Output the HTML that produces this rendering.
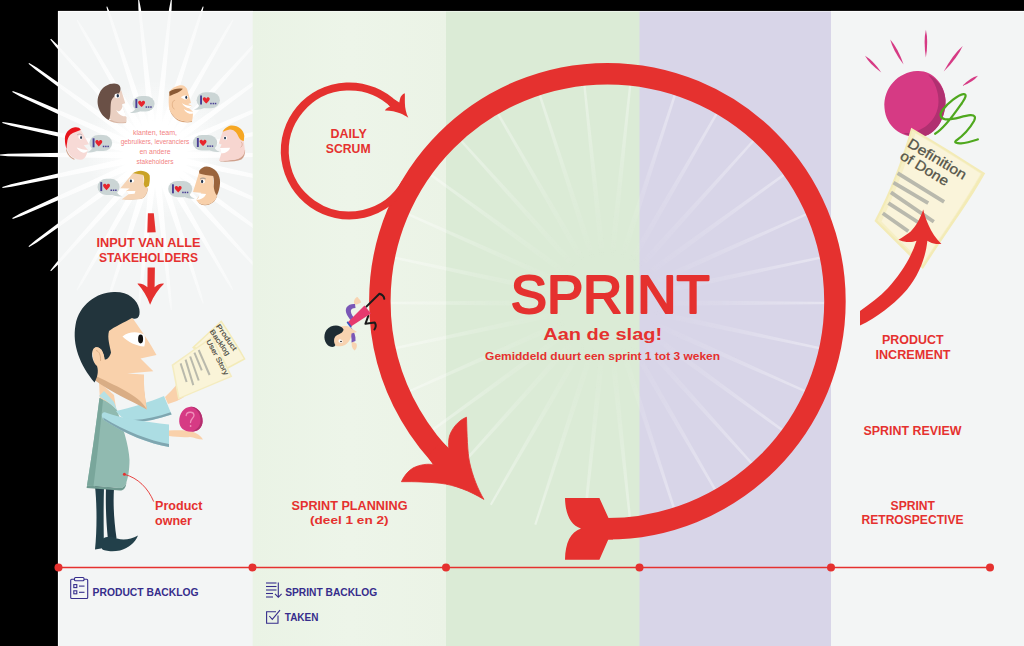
<!DOCTYPE html>
<html><head><meta charset="utf-8"><title>Scrum</title>
<style>html,body{margin:0;padding:0;background:#000;width:1024px;height:646px;overflow:hidden}svg{display:block}</style>
</head><body>
<svg width="1024" height="646" viewBox="0 0 1024 646">
<!-- s_bg -->
<rect x="0" y="0" width="1024" height="646" fill="#000"/>
<rect x="58" y="11" width="966" height="635" fill="#f3f5f5"/>
<radialGradient id="glow" cx="155" cy="150" r="70" gradientUnits="userSpaceOnUse"><stop offset="0" stop-color="#fff" stop-opacity="1"/><stop offset="0.45" stop-color="#fff" stop-opacity="0.85"/><stop offset="1" stop-color="#fff" stop-opacity="0"/></radialGradient>
<circle cx="155" cy="150" r="70" fill="url(#glow)"/>
<path fill="#fff" d="M173.0,158.4 L302.0,156.2 L311.0,155.4 L311.0,154.6 L302.0,153.8 L173.0,151.6Z M171.9,162.1 L298.5,186.8 L307.5,187.9 L307.7,187.0 L299.0,184.3 L173.3,155.4Z M170.1,165.4 L288.8,215.9 L297.3,218.9 L297.7,218.0 L289.8,213.6 L172.8,159.2Z M167.6,168.3 L273.2,242.4 L280.9,247.1 L281.5,246.3 L274.7,240.4 L171.6,162.8Z M164.5,170.7 L252.4,265.1 L259.0,271.2 L259.7,270.6 L254.3,263.4 L169.6,166.1Z M161.1,172.3 L227.4,282.9 L232.6,290.3 L233.4,289.9 L229.6,281.7 L166.9,168.9Z M157.3,173.2 L199.2,295.2 L202.8,303.5 L203.6,303.2 L201.6,294.4 L163.8,171.1Z M153.5,173.3 L169.1,301.3 L170.9,310.2 L171.8,310.1 L171.6,301.1 L160.3,172.5Z M149.7,172.5 L138.4,301.1 L138.2,310.1 L139.1,310.2 L140.9,301.3 L156.5,173.3Z M146.2,171.1 L108.4,294.4 L106.4,303.2 L107.2,303.5 L110.8,295.2 L152.7,173.2Z M143.1,168.9 L80.4,281.7 L76.6,289.9 L77.4,290.3 L82.6,282.9 L148.9,172.3Z M140.4,166.1 L55.7,263.4 L50.3,270.6 L51.0,271.2 L57.6,265.1 L145.5,170.7Z M138.4,162.8 L35.3,240.4 L28.5,246.3 L29.1,247.1 L36.8,242.4 L142.4,168.3Z M137.2,159.2 L20.2,213.6 L12.3,218.0 L12.7,218.9 L21.2,215.9 L139.9,165.4Z M136.7,155.4 L11.0,184.3 L2.3,187.0 L2.5,187.9 L11.5,186.8 L138.1,162.1Z M137.0,151.6 L8.0,153.8 L-1.0,154.6 L-1.0,155.5 L8.0,156.3 L137.0,158.4Z M138.1,147.9 L11.5,123.2 L2.5,122.1 L2.3,123.0 L11.0,125.7 L136.7,154.6Z M139.9,144.6 L21.2,94.1 L12.7,91.1 L12.3,92.0 L20.2,96.4 L137.2,150.8Z M142.4,141.7 L36.8,67.6 L29.1,62.9 L28.5,63.7 L35.3,69.6 L138.4,147.2Z M145.5,139.3 L57.6,44.9 L51.0,38.8 L50.3,39.4 L55.7,46.6 L140.4,143.9Z M148.9,137.7 L82.6,27.1 L77.4,19.7 L76.6,20.1 L80.4,28.3 L143.1,141.1Z M152.7,136.8 L110.8,14.8 L107.2,6.5 L106.4,6.8 L108.4,15.6 L146.2,138.9Z M156.5,136.7 L140.9,8.7 L139.1,-0.2 L138.2,-0.1 L138.4,8.9 L149.7,137.5Z M160.3,137.5 L171.6,8.9 L171.8,-0.1 L170.9,-0.2 L169.1,8.7 L153.5,136.7Z M163.8,138.9 L201.6,15.6 L203.6,6.8 L202.8,6.5 L199.2,14.8 L157.3,136.8Z M166.9,141.1 L229.6,28.3 L233.4,20.1 L232.6,19.7 L227.4,27.1 L161.1,137.7Z M169.6,143.9 L254.3,46.6 L259.7,39.4 L259.0,38.8 L252.4,44.9 L164.5,139.3Z M171.6,147.2 L274.7,69.6 L281.5,63.7 L280.9,62.9 L273.2,67.6 L167.6,141.7Z M172.8,150.8 L289.8,96.4 L297.7,92.0 L297.3,91.1 L288.8,94.1 L170.1,144.6Z M173.3,154.6 L299.0,125.7 L307.7,123.0 L307.5,122.1 L298.5,123.2 L171.9,147.9Z"/>
<circle cx="155" cy="155" r="26" fill="#fff"/>
<radialGradient id="dim" cx="155" cy="155" r="170" gradientUnits="userSpaceOnUse"><stop offset="0.2" stop-color="#f3f5f5" stop-opacity="0"/><stop offset="0.6" stop-color="#f3f5f5" stop-opacity="0.3"/><stop offset="1" stop-color="#f3f5f5" stop-opacity="0.7"/></radialGradient>
<rect x="58" y="11" width="196" height="400" fill="url(#dim)"/>
<linearGradient id="g1" x1="0" x2="1" y1="0" y2="0"><stop offset="0" stop-color="#eaf3e5"/><stop offset="0.5" stop-color="#edf5e9"/><stop offset="1" stop-color="#ebf3e6"/></linearGradient>
<rect x="252.7" y="11" width="194.3" height="635" fill="url(#g1)"/>
<rect x="446" y="11" width="194" height="635" fill="#dbebd6"/>
<rect x="639.5" y="11" width="192" height="635" fill="#d8d5e8"/>
<rect x="831" y="11" width="193" height="635" fill="#f3f5f5"/>
<rect x="58" y="10.9" width="195" height="1.1" fill="#fff" fill-opacity="0.9"/><rect x="253" y="10.9" width="578" height="1.1" fill="#fff" fill-opacity="0.45"/><rect x="831" y="10.9" width="193" height="1.1" fill="#fff" fill-opacity="0.9"/>
<rect x="57.9" y="11" width="1.1" height="635" fill="#fff" fill-opacity="0.9"/>
<radialGradient id="rayfade" cx="607.3" cy="303" r="233" gradientUnits="userSpaceOnUse"><stop offset="0.2" stop-color="#fff" stop-opacity="0"/><stop offset="0.5" stop-color="#fff" stop-opacity="0.11"/><stop offset="1" stop-color="#fff" stop-opacity="0.4"/></radialGradient>
<filter id="soft" x="-5%" y="-5%" width="110%" height="110%"><feGaussianBlur stdDeviation="0.6"/></filter>
<path d="M637.3,306.1 L840.3,304.0 L840.3,302.0 L637.3,299.9Z M636.0,312.3 L835.0,352.4 L835.4,350.5 L637.3,306.2Z M633.4,318.0 L819.7,398.7 L820.6,396.9 L636.0,312.4Z M629.7,323.1 L795.2,440.8 L796.4,439.1 L633.4,318.1Z M625.1,327.4 L762.5,476.8 L764.0,475.5 L629.7,323.2Z M619.6,330.5 L722.9,505.3 L724.7,504.3 L625.0,327.4Z M613.6,332.5 L678.3,524.9 L680.3,524.3 L619.5,330.6Z M607.4,333.2 L630.7,534.8 L632.6,534.6 L613.5,332.5Z M601.1,332.5 L582.0,534.6 L583.9,534.8 L607.2,333.2Z M595.1,330.6 L534.3,524.3 L536.3,524.9 L601.0,332.5Z M589.6,327.4 L489.9,504.3 L491.7,505.3 L595.0,330.5Z M584.9,323.2 L450.6,475.5 L452.1,476.8 L589.5,327.4Z M581.2,318.1 L418.2,439.1 L419.4,440.8 L584.9,323.1Z M578.6,312.4 L394.0,396.9 L394.9,398.7 L581.2,318.0Z M577.3,306.2 L379.2,350.5 L379.6,352.4 L578.6,312.3Z M577.3,299.9 L374.3,302.0 L374.3,304.0 L577.3,306.1Z M578.6,293.7 L379.6,253.6 L379.2,255.5 L577.3,299.8Z M581.2,288.0 L394.9,207.3 L394.0,209.1 L578.6,293.6Z M584.9,282.9 L419.4,165.2 L418.2,166.9 L581.2,287.9Z M589.5,278.6 L452.1,129.2 L450.6,130.5 L584.9,282.8Z M595.0,275.5 L491.7,100.7 L489.9,101.7 L589.6,278.6Z M601.0,273.5 L536.3,81.1 L534.3,81.7 L595.1,275.4Z M607.2,272.8 L583.9,71.2 L582.0,71.4 L601.1,273.5Z M613.5,273.5 L632.6,71.4 L630.7,71.2 L607.4,272.8Z M619.5,275.4 L680.3,81.7 L678.3,81.1 L613.6,273.5Z M625.0,278.6 L724.7,101.7 L722.9,100.7 L619.6,275.5Z M629.7,282.8 L764.0,130.5 L762.5,129.2 L625.1,278.6Z M633.4,287.9 L796.4,166.9 L795.2,165.2 L629.7,282.9Z M636.0,293.6 L820.6,209.1 L819.7,207.3 L633.4,288.0Z M637.3,299.8 L835.4,255.5 L835.0,253.6 L636.0,293.7Z" fill="url(#rayfade)" filter="url(#soft)"/>
<line x1="58" y1="567.5" x2="990" y2="567.5" stroke="#e5312f" stroke-width="1.6"/>
<circle cx="58.5" cy="567.5" r="4" fill="#e5312f"/>
<circle cx="252.5" cy="567.5" r="4" fill="#e5312f"/>
<circle cx="446" cy="567.5" r="4" fill="#e5312f"/>
<circle cx="639.5" cy="567.5" r="4" fill="#e5312f"/>
<circle cx="831" cy="567.5" r="4" fill="#e5312f"/>
<circle cx="990" cy="567.5" r="4" fill="#e5312f"/>
<!-- s_right -->
<path d="M865.0,55.7 Q869.7,64.2 881.3,72.4 Q873.4,60.6 865.0,55.7 Z" fill="#d63a84"/>
<path d="M890.2,39.5 Q893.1,50.9 903.6,64.6 Q898.0,48.2 890.2,39.5 Z" fill="#d63a84"/>
<path d="M925.9,29.8 Q923.3,40.9 925.9,57.6 Q928.5,40.9 925.9,29.8 Z" fill="#d63a84"/>
<path d="M962.7,45.9 Q952.8,54.5 943.7,71.6 Q957.4,57.8 962.7,45.9 Z" fill="#d63a84"/>
<path d="M978.0,75.8 Q970.2,77.7 962.1,86.1 Q973.1,82.1 978.0,75.8 Z" fill="#d63a84"/>
<path d="M917,71 C932,70 945,84 945.5,100 C946,118 936,136 920,137 C903,138 886,128 884.5,108 C883,88 898,72 917,71Z" fill="#d63a84"/>
<path d="M928,74.5 C938,79 945,89 945.5,100 C946,118 936,136 920,137 C914,137 908,135.5 903,133 C920,134 938,122 938.5,102 C938.8,92 935,82 928,74.5Z" fill="#b03070"/>
<path d="M911.2,127.8 C936,142 961,158 985.2,173.3 C968,204 944,236 922.9,269 L874.5,221 C890,192 902,160 911.2,127.8Z" fill="#f3ebb6"/>
<path d="M912.3,130.8 C936,144.3 959,158.8 981.8,173.4 C964,205 942,235 922.6,265.4 L877.3,220.6 C892,192 904,161 912.3,130.8Z" fill="#f6efc6"/><path d="M915.5,133.5 C937,146 959,159.6 980.6,173.8 C963,205 942,234 922.8,263.5 L881.5,221.5 C895,193 907,162 915.5,133.5Z" fill="#faf4da"/>
<line x1="897.6" y1="173.2" x2="944.1" y2="201.8" stroke="#b9b9ad" stroke-width="3.8"/>
<line x1="893.5" y1="182.7" x2="928.2" y2="203.1" stroke="#b9b9ad" stroke-width="3.8"/>
<line x1="890.9" y1="192.4" x2="933.8" y2="221.8" stroke="#b9b9ad" stroke-width="3.8"/>
<line x1="888.4" y1="203.1" x2="920" y2="223.5" stroke="#b9b9ad" stroke-width="3.8"/>
<line x1="882.8" y1="213.3" x2="908.3" y2="231.2" stroke="#b9b9ad" stroke-width="3.8"/>
<text transform="translate(906.5,146) rotate(31)" font-size="14" fill="#55554a" font-family="Liberation Sans, sans-serif" textLength="66" lengthAdjust="spacingAndGlyphs" stroke="#55554a" stroke-width="0.3">Definition</text>
<text transform="translate(899,158.5) rotate(31)" font-size="14" fill="#55554a" font-family="Liberation Sans, sans-serif" textLength="54" lengthAdjust="spacingAndGlyphs" stroke="#55554a" stroke-width="0.3">of Done</text>
<path d="M935.1,133.8 C945,128 955,113 962,103 C966,97 967,94 963.5,94.2 C958,95 948,103 943,109.5 C939,114.5 940,118 945,119.3 C952,120.5 962,116 970.3,115.2 C975,115 976,117 974,121 C970,128 962,136.5 955.7,141 C954,142.5 957,143.5 961,143.3 C967,143 973,141 977.9,139.4" fill="none" stroke="#4fa81e" stroke-width="2.2" stroke-linecap="round" stroke-linejoin="round"/>
<!-- s_ring -->
<path d="M603.24,539.46 A238.3,238.3 0 0 0 775.90,469.70 A238.3,238.3 0 0 0 845.70,301.20 A238.3,238.3 0 0 0 775.90,132.70 A238.3,238.3 0 0 0 607.40,62.90 A238.3,238.3 0 0 0 438.90,132.70 A238.3,238.3 0 0 0 369.10,301.20 A238.3,238.3 0 0 0 401.03,420.35 A238.3,238.3 0 0 0 441.86,472.62 L456.80,457.15 A216.8,216.8 0 0 1 419.65,409.60 A216.8,216.8 0 0 1 390.60,301.20 A216.8,216.8 0 0 1 454.10,147.90 A216.8,216.8 0 0 1 607.40,84.40 A216.8,216.8 0 0 1 760.70,147.90 A216.8,216.8 0 0 1 824.20,301.20 A216.8,216.8 0 0 1 760.70,454.50 A216.8,216.8 0 0 1 603.62,517.97 Z" fill="#e5312f"/>
<path d="M483.9,499.4 C478,489.5 472.5,476 469.5,462 C467.5,452 467,435 466.5,417.2 C459,420 452,428 449.5,436 C448.3,440.5 448.5,445 448.8,448.5 L441.5,441.5 L427.6,455.8 L433.5,464.8 C428,463.5 420,464.5 413,468 C408,471 404,476 401.4,481.7 C415,481.5 428,482 440,483.2 C455,485 470,491 483.9,499.4Z" fill="#e5312f" stroke="#e5312f" stroke-width="0.8" stroke-linejoin="round"/>
<path d="M565,498 L599.4,498 L608.5,518 L613,518 L613,539.5 L608.3,539.5 L599.4,559.7 L565,559.7 C565.3,543 570.5,532 581,528.6 C570.5,525 565.3,514 565,498 Z" fill="#e5312f"/>
<path d="M405.4,182.7 A64.5,64.5 0 1 1 394.9,105.3" fill="none" stroke="#e5312f" stroke-width="8"/>
<path d="M408.3,117.8 C406,113 405,108 404.9,103.2 C404.8,99.5 405,96 404.8,93.3 C402.5,94 400.5,96.5 400,99 C399.6,100.5 399.4,101.5 399.3,102.4 L394.6,99.5 L388,104.5 L390.3,106.3 C388.5,107 386,108.5 384.9,110.6 C390,110.5 396,111.8 400,113.3 C403.5,114.7 406,116.2 408.3,117.8Z" fill="#e5312f"/>
<path d="M860,310.9 C870,304 880,296.5 888,288 C900,275 911,258 916.5,240.8 C913,242.3 908,242.5 904,241.5 C902,241 900,240.5 898.5,239.7 C903,237 907.5,234 910.7,231.4 C916,226 920.5,218 923.2,209.4 C924.5,215 926.5,220.5 928.5,225.1 C931.5,232 936,239 941.4,243.9 C938.5,244.3 936,244 933.7,243.5 C931,242.8 929,242 927.4,240.8 C926.8,246 925.8,251.5 924.3,256.5 C921,268 914,283 903,294 C893,304.5 878,317 860,325.5 Z" fill="#e5312f"/>
<path d="M147.9,213.3 L153.8,213.3 L155.7,232.3 L147.3,232.6 Z" fill="#e5312f"/>
<path d="M147.6,267.5 L154.9,267.5 L154.6,287.2 C157,285 160.5,283.2 164,283.7 C158.5,289 153.5,296 150.1,304.8 C147,296 142.5,289 137.4,283.7 C141.2,283.2 144.5,285 147.4,287.2 Z" fill="#e5312f"/>
<!-- s_people -->
<g transform="translate(97.00,83.40) scale(0.2970,0.3990)">
<path d="M38,92 C55,102 80,100 98,99 L99,84 C60,95 50,90 38,92Z" fill="#d9b8a6"/>
<path d="M45,25 L82,18 L95,50 L84,52 L86,60 C92,70 98,80 99,97 C80,99 55,98 40,88 Z" fill="#ead0c2"/>
<path d="M86,58 C90,68 96,76 98,82 C85,84 72,78 64,66 C72,72 80,72 86,58Z" fill="#fff"/>
<path d="M40,92 C10,80 -8,50 8,25 C20,5 50,-3 70,2 C82,6 82,20 72,26 C60,32 50,36 47,48 C44,62 48,80 40,92Z" fill="#6a5046"/>
<ellipse cx="68" cy="31" rx="9" ry="6" fill="#fff"/><ellipse cx="70" cy="31" rx="4" ry="4.5" fill="#22344c"/>
</g>
<rect x="132.6" y="96.0" width="22.0" height="15.5" rx="9.0" ry="7.8" fill="#cbd5d5"/>
<path d="M135.6,108.0 C134.6,111.0 131.4,112.5 129.9,112.7 C134.4,113.6 138.6,112.0 141.6,110.5 Z" fill="#cbd5d5"/>
<rect x="135.4" y="99.0" width="1.9" height="9" fill="#4a3f94"/>
<path d="M141.60,102.15 c-1.2,-2.6 -4.2,-1.4 -3.3,1.0 c0.6,1.6 2.2,2.6 3.3,3.9 c1.1,-1.3 2.7,-2.3 3.3,-3.9 c0.9,-2.4 -2.1,-3.6 -3.3,-1.0z" fill="#e8252d"/>
<rect x="145.6" y="106.3" width="1.5" height="1.5" fill="#4a3f94"/>
<rect x="147.9" y="106.3" width="1.5" height="1.5" fill="#4a3f94"/>
<rect x="150.2" y="106.3" width="1.5" height="1.5" fill="#4a3f94"/>
<g transform="translate(168.80,85.20) scale(0.2420,0.3620)">
<path d="M40.5,95 C55,100 75,101 96,99 L96,102 C75,104 52,103 36,97 C18,88 2,74 0,56 C4,72 22,88 40.5,95Z" fill="#dba77c"/>
<path d="M2,18 C15,6 35,0 52,0 C62,0 70,4 75,10 L92,49 L80,52 L97,58 L84,64 L100,73 C100,82 99,92 96,99 C75,101 55,100 40.5,95 C20,86 2,72 0,56 C-1,40 0,28 2,18Z" fill="#f9d0aa"/>
<path d="M54,49 C62,54 80,57 97,58 L84,64 C72,62 60,57 54,49Z" fill="#fff"/>
<path d="M61.5,65.5 C70,70 85,73 100,73 L99,79 C85,80 70,76 61.5,65.5Z" fill="#fff"/>
<path d="M2,18 C20,10 40,8 58,10 C50,18 25,24 3,30Z" fill="#8a5a34"/>
<path d="M26,42 C12,40 10,64 24,66" fill="none" stroke="#dba77c" stroke-width="2.2"/>
<path d="M50,33 C60,27 72,27 80,31 C78,40 70,43 50,33Z" fill="#fff"/><ellipse cx="72" cy="33.5" rx="3.8" ry="4.6" fill="#22344c"/>
</g>
<rect x="196.6" y="92.2" width="23.3" height="16.1" rx="9.0" ry="8.0" fill="#cbd5d5"/>
<path d="M199.6,104.8 C198.6,107.8 195.4,109.3 193.9,109.5 C198.4,110.4 202.6,108.8 205.6,107.3 Z" fill="#cbd5d5"/>
<rect x="200.1" y="95.5" width="1.9" height="9" fill="#4a3f94"/>
<path d="M206.25,98.65 c-1.2,-2.6 -4.2,-1.4 -3.3,1.0 c0.6,1.6 2.2,2.6 3.3,3.9 c1.1,-1.3 2.7,-2.3 3.3,-3.9 c0.9,-2.4 -2.1,-3.6 -3.3,-1.0z" fill="#e8252d"/>
<rect x="210.2" y="102.8" width="1.5" height="1.5" fill="#4a3f94"/>
<rect x="212.6" y="102.8" width="1.5" height="1.5" fill="#4a3f94"/>
<rect x="214.8" y="102.8" width="1.5" height="1.5" fill="#4a3f94"/>
<g transform="translate(64.90,127.00) scale(0.2450,0.3270)">
<path d="M7,68 C12,80 22,92 40,98 L38,100 C20,95 7,82 4,68Z" fill="#d2a58f"/>
<path d="M64,8 L98,53 L77,56 L94,70 L88,85 C82,96 72,101 62,100 C45,99 28,92 20,84 C8,70 2,52 4,40 C8,24 30,10 64,8Z" fill="#f7dad6"/>
<path d="M48,62.5 C60,66 80,70 94,70.5 C88,78 80,80 72,78 C62,75 54,70 48,62.5Z" fill="#fff"/>
<path d="M64,8 C60,2 50,0 37,1.7 C15,5 0,20 0,36 C0,50 3,60 7,68 C7,58 8,52 9,48 C10,38 15,28 23,23 C35,17 50,14 64,9.5Z" fill="#e8141c"/>
<ellipse cx="63" cy="31.5" rx="8.5" ry="6" transform="rotate(20 63 31.5)" fill="#fff"/><ellipse cx="66" cy="32" rx="3.8" ry="4.6" fill="#22344c"/>
<path d="M50,24 C56,21 64,21 70,24" fill="none" stroke="#8a8f9a" stroke-width="1.8"/>
</g>
<rect x="89.4" y="135.1" width="22.8" height="16.0" rx="9.0" ry="8.0" fill="#cbd5d5"/>
<path d="M92.4,147.6 C91.4,150.6 88.2,152.1 86.7,152.3 C91.2,153.2 95.4,151.6 98.4,150.1 Z" fill="#cbd5d5"/>
<rect x="92.6" y="138.3" width="1.9" height="9" fill="#4a3f94"/>
<path d="M98.80,141.50 c-1.2,-2.6 -4.2,-1.4 -3.3,1.0 c0.6,1.6 2.2,2.6 3.3,3.9 c1.1,-1.3 2.7,-2.3 3.3,-3.9 c0.9,-2.4 -2.1,-3.6 -3.3,-1.0z" fill="#e8252d"/>
<rect x="102.8" y="145.7" width="1.5" height="1.5" fill="#4a3f94"/>
<rect x="105.1" y="145.7" width="1.5" height="1.5" fill="#4a3f94"/>
<rect x="107.4" y="145.7" width="1.5" height="1.5" fill="#4a3f94"/>
<g transform="translate(218.70,125.60) scale(0.2640,0.3560)">
<path d="M8,101 C40,102 70,100 86,95 C96,90 101,80 100,68 L96,70 C94,84 80,92 60,95 C40,97 20,98 2,99Z" fill="#cfa08c"/>
<path d="M15,17 L0,50 L11,53 L5,63 L10,78 L1,99.5 C30,99 60,97 76,93 C90,89 99,80 99,68 L95,43 C90,20 70,5 50,3 C35,3 22,10 15,17 Z" fill="#f7d6d0"/>
<path d="M5,63 L43,62.5 C40,72 25,78 10,78 Z" fill="#fff"/>
<path d="M15,17 C25,5 40,0 50,0 C75,0 95,12 97,29 L95,43 C85,42 78,38 74,30 C68,18 55,10 42,11 C32,12 22,16 15,17Z" fill="#f6a723"/>
<ellipse cx="25" cy="35" rx="7" ry="6" fill="#fff"/><ellipse cx="24" cy="35" rx="3.6" ry="4" fill="#22344c"/>
<path d="M84,46 C91,48 91,58 83,61" fill="none" stroke="#cfa08c" stroke-width="2"/>
</g>
<rect x="192.9" y="135.1" width="24.3" height="15.4" rx="9.0" ry="7.7" fill="#cbd5d5"/>
<path d="M214.2,147.0 C215.2,150.0 218.4,151.5 219.9,151.7 C215.4,152.6 211.2,151.0 208.2,149.5 Z" fill="#cbd5d5"/>
<rect x="196.9" y="138.0" width="1.9" height="9" fill="#4a3f94"/>
<path d="M203.05,141.20 c-1.2,-2.6 -4.2,-1.4 -3.3,1.0 c0.6,1.6 2.2,2.6 3.3,3.9 c1.1,-1.3 2.7,-2.3 3.3,-3.9 c0.9,-2.4 -2.1,-3.6 -3.3,-1.0z" fill="#e8252d"/>
<rect x="207.1" y="145.4" width="1.5" height="1.5" fill="#4a3f94"/>
<rect x="209.4" y="145.4" width="1.5" height="1.5" fill="#4a3f94"/>
<rect x="211.7" y="145.4" width="1.5" height="1.5" fill="#4a3f94"/>
<g transform="translate(120.30,170.70) scale(0.2940,0.2930)">
<path d="M4.4,99.5 C30,100 55,99 70,97 C84,93 94,76 94,58.7 L92,58 C90,74 82,90 70,94Z" fill="#e0b894"/>
<path d="M42.5,9 L0,60 L32,61 L19.5,69 L28,80 L4.4,98 C30,98 55,97 70,95 C82,91 92,75 93,58.7 L80,44 L78,14 Z" fill="#f5d4b6"/>
<path d="M19.5,69 L51.5,69 L48.5,79 L28,80 Z" fill="#fff"/>
<path d="M42.5,9 C50,3 60,0 70,0 C85,1 97,8 100,16.5 C101,30 100,42 97,52 L87,57.7 C82,54 80,50 80,44 C82,34 82,22 78,14.5 C66,12 54,10 42.5,9Z" fill="#caa226"/>
<ellipse cx="38" cy="34.5" rx="9" ry="7" fill="#fff"/><ellipse cx="36" cy="35" rx="3.8" ry="5" fill="#22344c"/>
</g>
<rect x="97.5" y="178.8" width="22.1" height="16.2" rx="9.0" ry="8.1" fill="#cbd5d5"/>
<path d="M116.6,191.5 C117.6,194.5 120.8,196.0 122.3,196.2 C117.8,197.1 113.6,195.5 110.6,194.0 Z" fill="#cbd5d5"/>
<rect x="100.3" y="182.1" width="1.9" height="9" fill="#4a3f94"/>
<path d="M106.55,185.30 c-1.2,-2.6 -4.2,-1.4 -3.3,1.0 c0.6,1.6 2.2,2.6 3.3,3.9 c1.1,-1.3 2.7,-2.3 3.3,-3.9 c0.9,-2.4 -2.1,-3.6 -3.3,-1.0z" fill="#e8252d"/>
<rect x="110.5" y="189.5" width="1.5" height="1.5" fill="#4a3f94"/>
<rect x="112.8" y="189.5" width="1.5" height="1.5" fill="#4a3f94"/>
<rect x="115.1" y="189.5" width="1.5" height="1.5" fill="#4a3f94"/>
<g transform="translate(193.00,166.30) scale(0.2760,0.3830)">
<path d="M12,88 C20,98 32,102 45,101.5 C65,101 82,92 88,77 L86.6,76 C80,90 65,99 45,99.7 C32,100 20,96 12,88Z" fill="#c98f60"/>
<path d="M22,16 L0,67 L30,69 L12,88 C20,96 32,100 45,99.7 C65,99 80,90 86.6,76 L75,52 L73,25 L24,14 Z" fill="#f8d0aa"/>
<path d="M7,70 L47.5,72.5 C42,82 28,88 12,88 C20,84 24,78 22,74 Z" fill="#fff"/>
<path d="M22,12.5 C30,4 40,0 50,0.5 C80,2 100,22 98,43 C97,56 93,68 86.6,76 C80,70 76,62 75,52.5 C76,42 76,32 73,25 C55,24 35,22 23,19 Z" fill="#9a643c"/>
<ellipse cx="35" cy="39.5" rx="8.5" ry="5.5" fill="#fff"/><ellipse cx="33" cy="39.5" rx="4" ry="4.6" fill="#22344c"/>
<path d="M26,33 C32,30 40,30 46,33" fill="none" stroke="#6b7a8a" stroke-width="2"/>
</g>
<rect x="168.2" y="181.0" width="24.0" height="16.2" rx="9.0" ry="8.1" fill="#cbd5d5"/>
<path d="M189.2,193.7 C190.2,196.7 193.4,198.2 194.9,198.4 C190.4,199.3 186.2,197.7 183.2,196.2 Z" fill="#cbd5d5"/>
<rect x="172.0" y="184.3" width="1.9" height="9" fill="#4a3f94"/>
<path d="M178.20,187.50 c-1.2,-2.6 -4.2,-1.4 -3.3,1.0 c0.6,1.6 2.2,2.6 3.3,3.9 c1.1,-1.3 2.7,-2.3 3.3,-3.9 c0.9,-2.4 -2.1,-3.6 -3.3,-1.0z" fill="#e8252d"/>
<rect x="182.2" y="191.7" width="1.5" height="1.5" fill="#4a3f94"/>
<rect x="184.5" y="191.7" width="1.5" height="1.5" fill="#4a3f94"/>
<rect x="186.8" y="191.7" width="1.5" height="1.5" fill="#4a3f94"/>
<path d="M95,486 L104,487 C103.5,505 103.5,525 104,548 L95,549.5 C97,530 97,505 95,486Z" fill="#22404a"/>
<path d="M106,487 L114,488 C113,505 114,520 116.5,538 L108,540 C106,520 105.5,505 106,487Z" fill="#1f3944"/>
<path d="M102,540 C104,536 112,536 117,538.5 C124,541 131,539 138,535.5 C135,543 128,548 120,550.5 C112,552 104,551 102,549Z" fill="#22404a"/>
<path d="M99,382 L114,395 L116,408 L100,402Z" fill="#f9d1ab"/>
<path d="M99.5,398 C104,400 112,404 117,410 C122,425 129,445 129.5,460 C129.5,470 128,478 126.5,482 C125.5,486 123,488 120,488 L87,485.5 C92,455 96,425 99.5,398Z" fill="#90bab0"/>
<path d="M99.5,398 L103,400 C100,430 97,460 93.5,486 L87,485.5 C92,455 96,425 99.5,398Z" fill="#79a69b"/>
<path d="M87,485.5 L120,488 C123,488 125.5,486 126.5,482 L126,485 C125,489 123,490.5 120,490.5 L86.6,488Z" fill="#6f9a90"/>
<path d="M99,396 L104,391 L114,402 L117,410 C111,404 105,400 99,396Z" fill="#b6e0e4"/>
<path d="M116,411 C130,408 150,402 164,396 L171.6,414.6 C158,419 146,422 133.5,422.5 C127,421 120,417 116,411Z" fill="#acdde3"/>
<path d="M133.5,422.5 C146,422 158,419 171.6,414.6 L170.6,412.2 C158,416.5 146,419.5 133,420Z" fill="#7fa6b0"/>
<path d="M165,397 C170,392 174,388 177,384 L184,397 C180,400 174,402 168,404Z" fill="#f9d1ab"/>
<path d="M102,414 C103,412 105,412 107,413 C120,418 145,422 169,424.5 L169,447 C150,444 125,434 104,420 C102,418 101.5,416 102,414Z" fill="#acdde3"/>
<path d="M104,420 C125,434 150,444 169,447 L169,444 C150,441 125,431 103,417.5Z" fill="#7fa6b0"/>
<path d="M169,430.5 C178,430 186,430 192,431.5 C197,433 201,436 203,439.5 C198,439.5 194,437.5 190,437 C184,437.5 176,437 169,436Z" fill="#f9d1ab"/>
<path d="M190.5,406.8 C198,406.5 203,414 202.6,421.5 C202.3,428 198,431.8 191,431.8 C184,431.8 179.5,427.5 179.2,421.5 C179,414 184,407 190.5,406.8Z" fill="#d63a84"/>
<path d="M190.5,406.8 C198,406.5 203,414 202.6,421.5 C202.3,428 198,431.8 191,431.8 C197,430 200.5,426 200.5,420 C200.5,414 197,408.5 190.5,406.8Z" fill="#b22f6e"/>
<path d="M186.2,415.5 C186.5,411.5 193.5,411 194,415 C194.3,418 190.5,418.5 190.5,422.5" fill="none" stroke="#f08fba" stroke-width="1.3" stroke-linecap="round"/><circle cx="190.6" cy="426" r="0.9" fill="#f08fba"/>
<path d="M94.5,380 C110,392 130,400 146.8,409.5 C145,398 143.5,388 142.5,377 C125,378 108,375 94.5,372Z" fill="#d9ad85"/>
<path d="M108,326 L132.5,318 C141,330 150,343 156.5,355 L140.5,358.5 L153.3,371.3 L127.2,373.6 L144,374.5 C143.5,386 145,398 146.8,409.5 C140,396 120,388 96,376 L92,350Z" fill="#f9d1ab"/>
<path d="M122.5,336.5 C129,331 139,331.5 144.6,335 C145.5,340 145,344 144.3,346.6 C136,346 128,342 122.5,336.5Z" fill="#fff"/>
<ellipse cx="140.6" cy="339" rx="2.5" ry="4.4" fill="#111"/>
<path d="M94.5,382.5 C80,365 72,345 75.5,325 C79,305 96,292.5 114,292 C128,291.5 137,299 139.3,309 C140,313 139.5,316.5 137.5,318 C135,319.5 133,318.5 132,318 C125,322 114,327 109,331 C107,338 110,346 111,352.5 C110,357 107,360 104.5,359.5 C104,352 100,346 95,347.5 C90,350 92,362 97,366 C99,372 97,378 94.5,382.5Z" fill="#22343c"/>
<path d="M104.5,359.5 C104,352 100,346 95.5,347.5 C91,350 92.5,361 97,365.5 C100,367 103,364 104.5,359.5Z" fill="#f9d1ab"/>
<path d="M96,350.5 C99,351 101,355 100.5,361" fill="none" stroke="#d9ad85" stroke-width="0.9"/>
<path d="M192,347.5 L221.4,320.3 C230,333 238,346 245.6,359.3 L222,372Z" fill="#f3ebb8"/>
<path d="M195,346.8 L221,322.3 C229,334 236.5,346.5 243.6,358.6 L224,369Z" fill="#faf4da"/>
<path d="M171.6,364.8 C184,356 199,345.5 212.3,336.2 C219,349.5 225.5,363 232.3,376.7 C215,384 196,392 178.1,399.4 C176,388 174,376 171.6,364.8Z" fill="#f4ecc0"/>
<path d="M173.4,365.6 C185,357 199,347.5 211.6,338.6 C218,351 224,363.5 230.3,376 C214,383 196,390.5 179.4,397.4 C177.5,387 175.5,376 173.4,365.6Z" fill="#faf4d8"/>
<line x1="180.6" y1="363.4" x2="186.6" y2="382" stroke="#b9b9ac" stroke-width="2"/>
<line x1="185.6" y1="359.6" x2="193.3" y2="385.1" stroke="#b9b9ac" stroke-width="2"/>
<line x1="190.2" y1="356.5" x2="198.7" y2="380.5" stroke="#b9b9ac" stroke-width="2"/>
<line x1="194.4" y1="352.6" x2="201.8" y2="370.4" stroke="#b9b9ac" stroke-width="2"/>
<line x1="198.7" y1="350" x2="209.6" y2="375" stroke="#b9b9ac" stroke-width="2"/>
<text transform="translate(215.8,326.2) rotate(55)" font-size="7" fill="#4a4a40" font-family="Liberation Sans, sans-serif" stroke="#4a4a40" stroke-width="0.15" textLength="30.5" lengthAdjust="spacingAndGlyphs">Product</text>
<text transform="translate(209.4,331.6) rotate(55)" font-size="7" fill="#4a4a40" font-family="Liberation Sans, sans-serif" stroke="#4a4a40" stroke-width="0.15" textLength="30" lengthAdjust="spacingAndGlyphs">Backlog</text>
<text transform="translate(206,341) rotate(61.5)" font-size="7" fill="#4a4a40" font-family="Liberation Sans, sans-serif" stroke="#4a4a40" stroke-width="0.15" textLength="39.5" lengthAdjust="spacingAndGlyphs">User Story</text>
<circle cx="124.4" cy="474.3" r="1.5" fill="#e5312f"/>
<path d="M124.4,474.3 C138,478 148,488 153.7,501.6" fill="none" stroke="#e5312f" stroke-width="0.9"/>
<path d="M366.4,306.6 L379.4,293.8 C382,294.5 384,296.5 384.3,298.8" fill="none" stroke="#1b1b1b" stroke-width="2" stroke-linecap="round" stroke-linejoin="round"/>
<path d="M368.3,315.9 L365.4,323.8 L374.8,322.6 C376,324.5 375.8,327.5 374.4,329.5" fill="none" stroke="#1b1b1b" stroke-width="2" stroke-linecap="round" stroke-linejoin="round"/>
<path d="M354.5,304.5 C353,301 355,297.5 357.5,297 C359,299 361,300.5 361,302.5 C359,303.5 357,305 354.5,304.5Z" fill="#f8d3b0"/>
<path d="M352,341.5 C351,345 352,348.5 354.5,350.5 C356.5,349 357.5,346.5 356.5,343.5Z" fill="#f8d3b0"/>
<path d="M351.5,321 C347,316 344.5,311 346.5,307.5 C348.5,304.5 352,303.5 355,304 L355.5,308 C352.5,308 351,309 350.8,311 C351,314 353,316.5 355,318.5Z" fill="#7a57b6"/>
<path d="M351,327 C354,331 356,336 355.5,341 L351.5,342.5 C352,338 351,334 348.5,330Z" fill="#7a57b6"/>
<path d="M347.8,322.3 L364.5,305.4 L370.9,313.6 L350.9,326.6Z" fill="#e63a6e"/>
<path d="M346.6,322.6 L347.8,321.3 L351.8,326.4 L350.3,327.5Z" fill="#3a55c0"/>
<path d="M333.5,331 C338,327 344,325 348.5,326.5 L357,332 L351.5,333.5 C351.5,338 349,342.5 345,345 C341,347 336,346.5 334,345Z" fill="#f8d3b0"/>
<path d="M343.5,329.2 C340,324 331,324.5 326.5,330 C322.5,336 324.5,344 330,346.6 C333,347.5 335,346.5 335.3,345 C333.5,342 333.5,337.5 336.5,335.5 C340,333.5 343.5,332.5 343.5,329.2Z" fill="#1e2c33"/>
<ellipse cx="340.6" cy="341.2" rx="2.2" ry="1.7" transform="rotate(25 340.6 341.2)" fill="#fff"/><circle cx="341" cy="341.5" r="0.8" fill="#111"/>
<!-- s_icons -->
<rect x="70.7" y="579.2" width="17" height="19.3" rx="1" fill="none" stroke="#362d8c" stroke-width="1.1"/>
<rect x="74.5" y="577.5" width="9.5" height="3.2" rx="1" fill="#f3f5f5" stroke="#362d8c" stroke-width="1.1"/>
<rect x="73.8" y="584.6" width="3" height="3" fill="none" stroke="#362d8c" stroke-width="1.1"/>
<rect x="73.8" y="590.8" width="3" height="3" fill="none" stroke="#362d8c" stroke-width="1.1"/>
<line x1="79" y1="586.1" x2="84.5" y2="586.1" fill="none" stroke="#362d8c" stroke-width="1.1"/>
<line x1="79" y1="592.3" x2="84.5" y2="592.3" fill="none" stroke="#362d8c" stroke-width="1.1"/>
<line x1="266" y1="583" x2="276.5" y2="583" fill="none" stroke="#362d8c" stroke-width="1.1"/>
<line x1="266" y1="586.5" x2="276.5" y2="586.5" fill="none" stroke="#362d8c" stroke-width="1.1"/>
<line x1="266" y1="590" x2="276.5" y2="590" fill="none" stroke="#362d8c" stroke-width="1.1"/>
<line x1="266" y1="593.5" x2="273" y2="593.5" fill="none" stroke="#362d8c" stroke-width="1.1"/>
<line x1="266" y1="597" x2="273" y2="597" fill="none" stroke="#362d8c" stroke-width="1.1"/>
<path d="M278.3,582.5 L278.3,597 M275,593.8 L278.3,597.3 L281.6,593.8" fill="none" stroke="#362d8c" stroke-width="1.1"/>
<path d="M278,615.5 L278,623.2 L266.6,623.2 L266.6,611.8 L276,611.8" fill="none" stroke="#362d8c" stroke-width="1.1"/>
<path d="M269.3,616 L272.3,619.3 L280,610.2" fill="none" stroke="#362d8c" stroke-width="1.1"/>
<!-- s_text -->
<text x="610.2" y="313.1" font-size="54.5" font-weight="normal" fill="#e5312f" text-anchor="middle" font-family="Liberation Sans, sans-serif" textLength="199" lengthAdjust="spacingAndGlyphs" stroke="#e5312f" stroke-width="2.2" stroke-linejoin="round">SPRINT</text>
<text x="602.7" y="340.4" font-size="17.4" font-weight="bold" fill="#e5312f" text-anchor="middle" font-family="Liberation Sans, sans-serif" textLength="119" lengthAdjust="spacingAndGlyphs" >Aan de slag!</text>
<text x="602.6" y="359.8" font-size="11" font-weight="bold" fill="#e5312f" text-anchor="middle" font-family="Liberation Sans, sans-serif" textLength="235" lengthAdjust="spacingAndGlyphs" >Gemiddeld duurt een sprint 1 tot 3 weken</text>
<text x="348.6" y="138.4" font-size="12.3" font-weight="bold" fill="#e5312f" text-anchor="middle" font-family="Liberation Sans, sans-serif" textLength="36.3" lengthAdjust="spacingAndGlyphs" >DAILY</text>
<text x="348.2" y="153.4" font-size="12.3" font-weight="bold" fill="#e5312f" text-anchor="middle" font-family="Liberation Sans, sans-serif" textLength="44.7" lengthAdjust="spacingAndGlyphs" >SCRUM</text>
<text x="148.5" y="247.2" font-size="12.8" font-weight="bold" fill="#e5312f" text-anchor="middle" font-family="Liberation Sans, sans-serif" textLength="104" lengthAdjust="spacingAndGlyphs" >INPUT VAN ALLE</text>
<text x="148.5" y="262.2" font-size="12.8" font-weight="bold" fill="#e5312f" text-anchor="middle" font-family="Liberation Sans, sans-serif" textLength="99" lengthAdjust="spacingAndGlyphs" >STAKEHOLDERS</text>
<text x="155" y="510.2" font-size="12.8" font-weight="bold" fill="#e5312f" text-anchor="start" font-family="Liberation Sans, sans-serif" textLength="47.5" lengthAdjust="spacingAndGlyphs" >Product</text>
<text x="155" y="524.6" font-size="12.8" font-weight="bold" fill="#e5312f" text-anchor="start" font-family="Liberation Sans, sans-serif" textLength="37" lengthAdjust="spacingAndGlyphs" >owner</text>
<text x="349.5" y="509.9" font-size="12.1" font-weight="bold" fill="#e5312f" text-anchor="middle" font-family="Liberation Sans, sans-serif" textLength="116" lengthAdjust="spacingAndGlyphs" >SPRINT PLANNING</text>
<text x="349.3" y="523.9" font-size="11.6" font-weight="bold" fill="#e5312f" text-anchor="middle" font-family="Liberation Sans, sans-serif" textLength="78.5" lengthAdjust="spacingAndGlyphs" >(deel 1 en 2)</text>
<text x="912.8" y="343.6" font-size="12.1" font-weight="bold" fill="#e5312f" text-anchor="middle" font-family="Liberation Sans, sans-serif" textLength="61.5" lengthAdjust="spacingAndGlyphs" >PRODUCT</text>
<text x="913" y="358.6" font-size="12.1" font-weight="bold" fill="#e5312f" text-anchor="middle" font-family="Liberation Sans, sans-serif" textLength="75" lengthAdjust="spacingAndGlyphs" >INCREMENT</text>
<text x="912.5" y="435.4" font-size="12.1" font-weight="bold" fill="#e5312f" text-anchor="middle" font-family="Liberation Sans, sans-serif" textLength="98" lengthAdjust="spacingAndGlyphs" >SPRINT REVIEW</text>
<text x="912.8" y="509.9" font-size="12.1" font-weight="bold" fill="#e5312f" text-anchor="middle" font-family="Liberation Sans, sans-serif" textLength="44.5" lengthAdjust="spacingAndGlyphs" >SPRINT</text>
<text x="912.5" y="524.4" font-size="12.1" font-weight="bold" fill="#e5312f" text-anchor="middle" font-family="Liberation Sans, sans-serif" textLength="102" lengthAdjust="spacingAndGlyphs" >RETROSPECTIVE</text>
<text x="92.6" y="596.4" font-size="11.3" font-weight="bold" fill="#362d8c" text-anchor="start" font-family="Liberation Sans, sans-serif" textLength="106" lengthAdjust="spacingAndGlyphs" >PRODUCT BACKLOG</text>
<text x="285.2" y="596.4" font-size="11.3" font-weight="bold" fill="#362d8c" text-anchor="start" font-family="Liberation Sans, sans-serif" textLength="92" lengthAdjust="spacingAndGlyphs" >SPRINT BACKLOG</text>
<text x="284.8" y="620.8" font-size="11.3" font-weight="bold" fill="#362d8c" text-anchor="start" font-family="Liberation Sans, sans-serif" textLength="33.6" lengthAdjust="spacingAndGlyphs" >TAKEN</text>
<text x="155" y="134.5" font-size="7.6" font-weight="normal" fill="#f28282" text-anchor="middle" font-family="Liberation Sans, sans-serif" textLength="44" lengthAdjust="spacingAndGlyphs" >klanten, team,</text>
<text x="155" y="143.9" font-size="7.6" font-weight="normal" fill="#f28282" text-anchor="middle" font-family="Liberation Sans, sans-serif" textLength="68.7" lengthAdjust="spacingAndGlyphs" >gebruikers, leveranciers</text>
<text x="155" y="154.0" font-size="7.6" font-weight="normal" fill="#f28282" text-anchor="middle" font-family="Liberation Sans, sans-serif" textLength="31" lengthAdjust="spacingAndGlyphs" >en andere</text>
<text x="155" y="163.70000000000002" font-size="7.6" font-weight="normal" fill="#f28282" text-anchor="middle" font-family="Liberation Sans, sans-serif" textLength="37" lengthAdjust="spacingAndGlyphs" >stakeholders</text>
</svg>
</body></html>
